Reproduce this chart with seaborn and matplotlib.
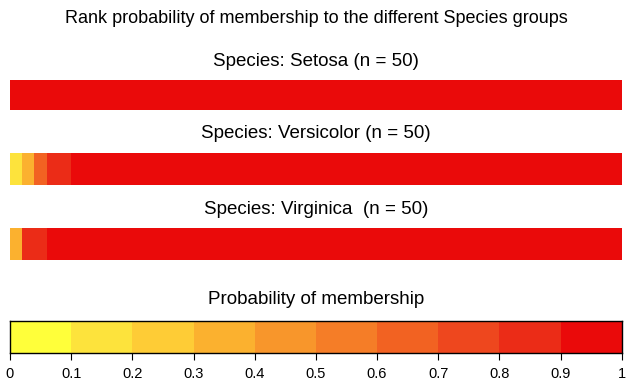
import numpy as np
import matplotlib.pyplot as plt
import seaborn as sns
from matplotlib.colors import ListedColormap

# probability bins (class centres) and number of individuals in each, per species
bin_values = [0.15, 0.35, 0.65, 0.85, 0.95]
setosa_counts = [0, 0, 0, 0, 50]
versicolor_counts = [1, 1, 1, 2, 45]
virginica_counts = [0, 1, 0, 2, 47]

species = ["Setosa", "Versicolor", "Virginica "]
counts = [setosa_counts, versicolor_counts, virginica_counts]

bin_colors = [
    "#ffff3a", "#fde33c", "#fecc36", "#fbb12f", "#f8962b",
    "#f57d27", "#f26222", "#ee471e", "#eb2c17", "#ea0a0a",
]
cbar_ticks = [0, 0.1, 0.2, 0.3, 0.4, 0.5, 0.6, 0.7, 0.8, 0.9, 1]
cbar_labels = ["0", "0.1", "0.2", "0.3", "0.4", "0.5", "0.6", "0.7", "0.8", "0.9", "1"]

sns.set_theme(style="white")
plt.rcParams["font.family"] = ["Liberation Sans", "DejaVu Sans"]
plt.rcParams["text.color"] = "black"
plt.rcParams["xtick.color"] = "black"
cmap = ListedColormap(bin_colors)

fig = plt.figure(figsize=(6.32, 3.85), dpi=100)
fig.text(0.5, 0.953, "Rank probability of membership to the different Species groups",
         ha="center", va="center", fontsize=13)

left, width = 0.0158, 0.968
bottoms = [0.714, 0.519, 0.325]
heights = [0.078, 0.083, 0.083]
title_y = [0.839, 0.652, 0.457]

for name, cnt, b, h, ty in zip(species, counts, bottoms, heights, title_y):
    ax = fig.add_axes([left, b, width, h])
    row = np.repeat(bin_values, cnt)[np.newaxis, :]
    sns.heatmap(row, cmap=cmap, vmin=0, vmax=1, cbar=False, ax=ax,
                xticklabels=False, yticklabels=False)
    n = int(sum(cnt))
    fig.text(0.5, ty, f"Species: {name} (n = {n})", ha="center", va="center", fontsize=13.5)

# colour key
cax = fig.add_axes([left, 0.083, width, 0.083])
key = np.array(cbar_ticks[:-1])[np.newaxis, :] + 0.05
sns.heatmap(key, cmap=cmap, vmin=0, vmax=1, cbar=False, ax=cax,
            xticklabels=False, yticklabels=False)
for s in cax.spines.values():
    s.set_visible(True)
    s.set_color("black")
    s.set_linewidth(1)
cax.set_xticks(np.array(cbar_ticks) * 10)
cax.set_xticklabels(cbar_labels, fontsize=10.5)
cax.tick_params(axis="x", bottom=True, length=5, width=0.8, color="black", pad=5)
fig.text(0.5, 0.221, "Probability of membership", ha="center", va="center", fontsize=13.5)

fig.savefig("out.png", dpi=100)
